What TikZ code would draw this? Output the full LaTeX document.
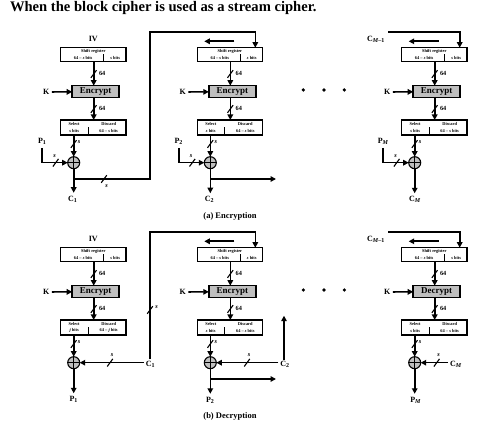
\documentclass[tikz,border=0pt]{standalone}
\usepackage{fontspec}
\setmainfont{Liberation Serif}
\usetikzlibrary{arrows.meta,calc}
\tikzset{
  every node/.style={font=\bfseries, inner sep=0pt, outer sep=0pt},
  arr/.style={line width=1.6pt, -{Triangle[length=5.5pt,width=5.5pt]}},
  regbox/.style={draw, line width=1.5pt, minimum width=65.3pt, minimum height=14pt},
  divider/.style={line width=0.8pt},
  cipherbox/.style={draw, line width=1.5pt, fill=gray!50, minimum width=47pt, minimum height=12pt, font=\fontsize{9}{9}\bfseries},
  tinytxt/.style={font=\fontsize{4.4}{4.6}\bfseries},
  lbl/.style={font=\fontsize{8}{9}\bfseries},
  slbl/.style={font=\fontsize{6.3}{6.3}\bfseries},
  caption/.style={font=\fontsize{8.5}{9}\bfseries},
  xorc/.style={draw, circle, line width=1.1pt, fill=gray!50, minimum size=12pt,
    path picture={\draw[line width=0.9pt] (path picture bounding box.north) -- (path picture bounding box.south)
      (path picture bounding box.west) -- (path picture bounding box.east);}},
  slash/.pic={\draw[line width=1.1pt] (-2.8,3.8) -- (2.8,-3.8);},
}
% #1 prefix, #2 west x of boxes, #3 vertical offset, #4 cipher word, #5 select letter
\newcommand{\cfbblock}[5]{%
  \coordinate (#1ln) at ({#2+33},{#3});
  \node[regbox] (#1sr) at ({#2+32.65},{#3+54.7}) {};
  \node[tinytxt] at ({#2+32.65},{#3+51.2}) {Shift register};
  \node[tinytxt] at ({#2+22.5},{#3+57.9}) {64 – \textit{s} bits};
  \node[tinytxt] at ({#2+54.5},{#3+57.9}) {\textit{s} bits};
  \draw[divider] ({#2+43},{#3+54.5}) -- ({#2+43},{#3+61.7});
  \node[cipherbox] (#1enc) at ({#2+35},{#3+91.7}) {#4};
  \node[regbox, minimum height=15pt] (#1sel) at ({#2+32.65},{#3+127.5}) {};
  \node[tinytxt] at ({#2+13.5},{#3+124}) {Select};
  \node[tinytxt] at ({#2+13.5},{#3+130.9}) {\textit{#5} bits};
  \node[tinytxt] at ({#2+48},{#3+124}) {Discard};
  \node[tinytxt] at ({#2+48},{#3+130.9}) {64 – \textit{#5} bits};
  \draw[divider] ({#2+27.5},{#3+127.5}) -- ({#2+27.5},{#3+135});
  \node[xorc] (#1x) at ({#2+13},{#3+162.7}) {};
  \node[lbl] (#1k) at ({#2+35-23.5-26},{#3+92}) {K};
  \draw[arr, shorten <=2.5pt] (#1k) -- (#1enc);
  \draw[arr] (#1sr.south -| #1ln) -- (#1enc.north -| #1ln);
  \draw[arr] (#1enc.south -| #1ln) -- (#1sel.north -| #1ln);
  \draw[arr] (#1sel.south -| #1x) -- (#1x);
  \pic at ({#2+33},{#3+74}) {slash};
  \node[slbl] at ({#2+41.5},{#3+73}) {64};
  \pic at ({#2+33},{#3+109}) {slash};
  \node[slbl] at ({#2+41.5},{#3+108}) {64};
  \pic at ({#2+13},{#3+144}) {slash};
  \node[slbl] at ({#2+18.5},{#3+142}) {\textit{s}};
}
\begin{document}
\begin{tikzpicture}[x=1pt,y=-1pt]
\path[fill=white, use as bounding box] (0,0) rectangle (480,422);

\node[anchor=base west, font=\fontsize{14.6}{17}\bfseries] (title) at (10,11.6) {When the block cipher is used as a stream cipher.};

% ---------- (a) Encryption ----------
\cfbblock{a}{60.7}{0}{Encrypt}{s}
\cfbblock{b}{197.3}{0}{Encrypt}{s}
\cfbblock{c}{401.7}{0}{Encrypt}{s}

\node[lbl] (aiv) at (93.3,39) {IV};
\node[lbl] (cm1) at (376,39) {C\textsubscript{\textit{M}–1}};

% plaintext inputs
\node[lbl] (ap) at (42.2,141.7) {P\textsubscript{1}};
\node[lbl] (bp) at (178.8,141.7) {P\textsubscript{2}};
\node[lbl] (cp) at (383.2,141.7) {P\textsubscript{\textit{M}}};
\draw[arr, shorten <=3pt] (ap.south) |- (ax);
\draw[arr, shorten <=3pt] (bp.south) |- (bx);
\draw[arr, shorten <=3pt] (cp.south) |- (cx);
\pic at (55.7,162.7) {slash}; \node[slbl] at (54.5,156) {\textit{s}};
\pic at (192.3,162.7) {slash}; \node[slbl] at (191.1,156) {\textit{s}};
\pic at (396.7,162.7) {slash}; \node[slbl] at (395.5,156) {\textit{s}};

% ciphertext outputs
\node[lbl] (ac) at (72.7,199) {C\textsubscript{1}};
\node[lbl] (bc) at (209.5,199.5) {C\textsubscript{2}};
\node[lbl] (cc) at (415,199.5) {C\textsubscript{\textit{M}}};
\draw[arr, shorten >=3pt] (ax) -- (ac.north -| ax);
\draw[arr, shorten >=3pt] (bx) -- (bc.north -| bx);
\draw[arr, shorten >=3pt] (cx) -- (cc.north -| cx);

% feedback
\coordinate (ab) at (73.7,179);
\coordinate (af) at (150,32.3);
\draw[arr] (ab) -| (af) -| ([xshift=58pt]bsr.north west);
\pic at (104,179) {slash}; \node[slbl] at (106.5,186.5) {\textit{s}};
\coordinate (bb) at (210.3,179);
\coordinate (bbe) at (276,179);
\draw[arr] (bb) -- (bbe);
\coordinate (cm1s) at (388.3,32.3);
\draw[arr] (cm1s) -| ([xshift=58pt]csr.north west);
% shift arrows
\coordinate (bl1) at (234.3,41.3); \coordinate (bl2) at (204.3,41.3);
\draw[arr] (bl1) -- (bl2);
\coordinate (cl1) at (438.7,41.3); \coordinate (cl2) at (408.7,41.3);
\draw[arr] (cl1) -- (cl2);

\foreach \dx in {303.3,324,344.3} \fill (\dx,90) circle (1.8);
\node[caption] (capa) at (230,216.7) {(a) Encryption};

% ---------- (b) Decryption ----------
\cfbblock{d}{60.7}{200}{Encrypt}{j}
\cfbblock{e}{197.3}{200}{Encrypt}{s}
\cfbblock{f}{401.7}{200}{Decrypt}{s}

\node[lbl] (div) at (93.3,239) {IV};
\node[lbl] (fm1) at (376,239) {C\textsubscript{\textit{M}–1}};

% ciphertext inputs
\node[lbl] (dc) at (150.5,364.2) {C\textsubscript{1}};
\node[lbl] (ec) at (285,364.7) {C\textsubscript{2}};
\node[lbl] (fc) at (456,364.7) {C\textsubscript{\textit{M}}};
\draw[arr, shorten <=2pt] (dc.west |- dx) -- (dx);
\draw[arr, shorten <=2pt] (ec.west |- ex) -- (ex);
\draw[arr, shorten <=2pt] (fc.west |- fx) -- (fx);
\pic at (110,362.7) {slash}; \node[slbl] at (112,355.5) {\textit{s}};
\pic at (247,362.7) {slash}; \node[slbl] at (249,355.5) {\textit{s}};
\pic at (436.7,362.7) {slash}; \node[slbl] at (438.7,355.5) {\textit{s}};

% plaintext outputs
\node[lbl] (dp) at (73.7,399.5) {P\textsubscript{1}};
\node[lbl] (ep) at (210.3,400) {P\textsubscript{2}};
\node[lbl] (fp) at (415.7,400) {P\textsubscript{\textit{M}}};
\draw[arr, shorten >=3pt] (dx) -- (dp.north -| dx);
\draw[arr, shorten >=3pt] (ex) -- (ep.north -| ex);
\draw[arr, shorten >=3pt] (fx) -- (fp.north -| fx);

% feedback
\coordinate (df) at (150,232.3);
\draw[arr, shorten <=1.5pt] (dc.north -| df) -- (df) -| ([xshift=58pt]esr.north west);
\pic at (150,310) {slash}; \node[slbl] at (156.5,307) {\textit{s}};
\coordinate (eup) at (284,315.7);
\draw[arr, shorten <=1.5pt] (ec.north -| eup) -- (eup);
\coordinate (eb) at (210.3,379);
\coordinate (ebe) at (276,379);
\draw[arr] (eb) -- (ebe);
\coordinate (fm1s) at (388.3,232.3);
\draw[arr] (fm1s) -| ([xshift=58pt]fsr.north west);
\coordinate (el1) at (234.3,241.3); \coordinate (el2) at (204.3,241.3);
\draw[arr] (el1) -- (el2);
\coordinate (fl1) at (438.7,241.3); \coordinate (fl2) at (408.7,241.3);
\draw[arr] (fl1) -- (fl2);

\foreach \dx in {303.3,324,344.3} \fill (\dx,290) circle (1.8);
\node[caption] (capb) at (230,416.7) {(b) Decryption};
\end{tikzpicture}
\end{document}
